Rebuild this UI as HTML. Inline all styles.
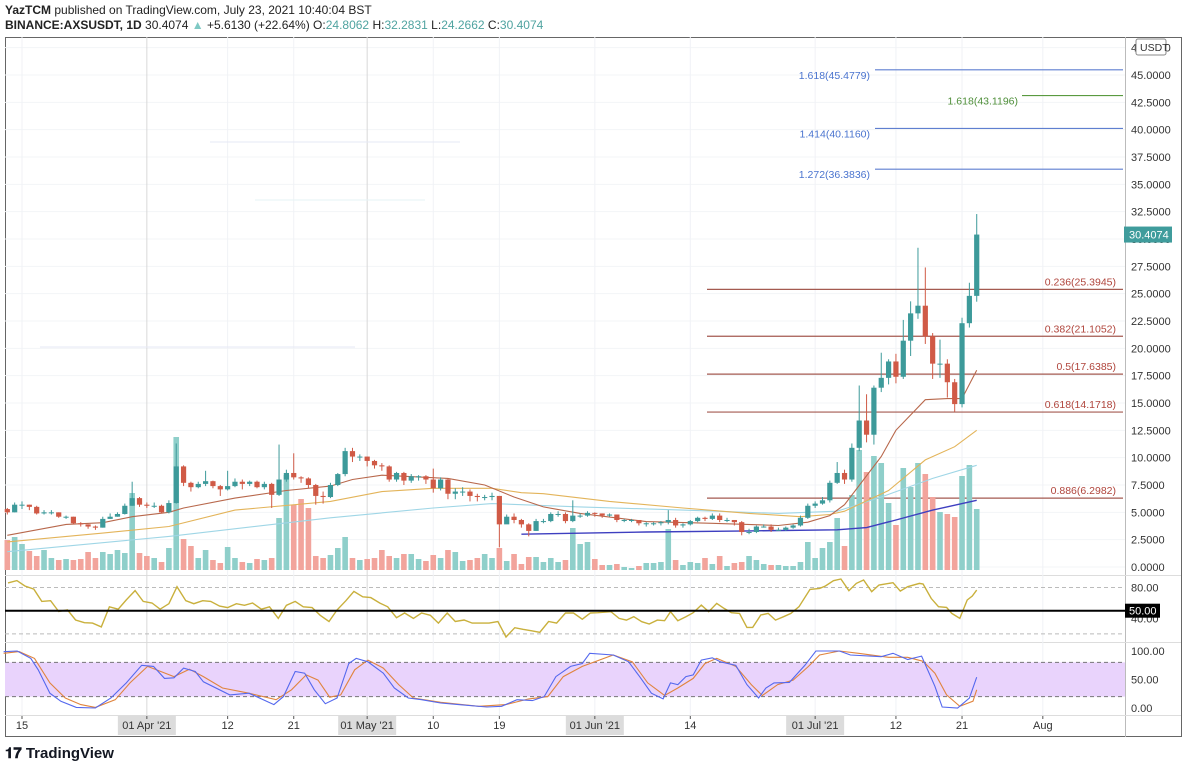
<!DOCTYPE html>
<html><head><meta charset="utf-8">
<style>
html,body{margin:0;padding:0;background:#fff;width:1186px;height:768px;overflow:hidden}
svg{display:block;font-family:"Liberation Sans",sans-serif}
</style></head>
<body>
<svg id="chart" width="1186" height="768" viewBox="0 0 1186 768" xmlns="http://www.w3.org/2000/svg">
<text x="5" y="14" font-size="12" fill="#222"><tspan font-weight="bold">YazTCM</tspan> published on TradingView.com, July 23, 2021 10:40:04 BST</text>
<text x="5" y="29" font-size="12" fill="#222"><tspan font-weight="bold">BINANCE:AXSUSDT, 1D</tspan> 30.4074 <tspan fill="#7fc9c4">▲</tspan> +5.6130 (+22.64%) O:<tspan fill="#4fa3a0">24.8062</tspan> H:<tspan fill="#4fa3a0">32.2831</tspan> L:<tspan fill="#4fa3a0">24.2662</tspan> C:<tspan fill="#4fa3a0">30.4074</tspan></text>
<rect x="5.5" y="37.5" width="1176" height="699" fill="none" stroke="#666"/>
<line x1="1125.5" y1="37" x2="1125.5" y2="737" stroke="#bbb"/>
<line x1="5" y1="575.5" x2="1181" y2="575.5" stroke="#ddd"/>
<line x1="5" y1="642.5" x2="1181" y2="642.5" stroke="#ddd"/>
<line x1="5" y1="715.5" x2="1181" y2="715.5" stroke="#ddd"/>
<g id="grid"></g>
<g id="ghost">
<line x1="210" y1="142" x2="460" y2="142" stroke="#e6e9f5"/>
<line x1="255" y1="200" x2="425" y2="200" stroke="#e6f3f5"/>
<line x1="40" y1="347" x2="355" y2="347" stroke="#e6e9f5"/>
</g>
<g id="fib"></g>
<g id="vol"></g>
<g id="mas"></g>
<g id="candles"></g>
<g id="rsi"></g>
<g id="stoch"></g>
<g id="axes"></g>
<text x="5" y="758" font-size="15" font-weight="bold" fill="#131722">𝟏𝟕 TradingView</text>
</svg>
<script>
const closes=[5.0,5.7,5.7,5.5,4.9,5.0,5.0,4.6,4.6,4.0,3.9,3.7,3.6,4.4,4.6,4.85,5.6,6.3,5.7,5.6,5.6,5.0,5.85,9.2,7.7,7.3,7.6,7.85,7.4,7.1,7.4,7.8,7.6,7.8,7.3,7.6,6.6,8.0,8.6,8.2,8.1,7.5,6.5,6.4,7.5,8.5,10.6,10.1,10.1,9.7,9.3,9.2,8.0,8.6,7.9,8.3,8.3,8.0,7.2,8.0,6.7,6.9,6.9,6.5,6.4,6.4,6.5,3.9,
4.6,4.3,3.9,3.3,4.2,4.2,4.85,4.85,4.2,4.7,4.7,4.95,4.9,4.7,4.8,4.3,4.3,4.3,4.0,4.0,4.0,4.1,4.3,3.8,3.9,4.2,4.5,4.4,4.7,4.3,4.3,4.1,3.2,3.2,3.7,3.7,3.4,3.4,3.6,3.8,4.5,5.6,
5.8,6.1,7.7,8.6,8.0,10.9,13.4,12.1,16.4,17.3,18.8,17.4,20.7,23.2,23.9,21.1,18.6,18.6,16.9,14.9,22.3,24.8,30.4074];
const highs=[5.4,5.9,6.0,5.7,5.6,5.2,5.2,5.0,4.7,4.6,4.1,3.9,3.8,4.6,4.9,5.0,5.8,7.8,6.4,5.9,5.9,5.7,6.1,11.3,9.3,7.8,7.8,8.8,7.9,7.5,8.8,8.1,8.0,7.9,7.9,7.8,7.7,11.2,8.9,10.4,8.3,8.2,7.6,6.9,7.7,8.6,10.9,10.9,10.3,10.1,9.8,9.5,9.3,8.7,8.7,8.5,8.4,8.4,9.0,8.2,8.1,7.2,7.3,7.1,6.7,6.6,6.8,6.5,
4.8,4.9,4.4,4.0,4.4,4.4,5.0,5.1,5.0,6.1,4.9,5.1,5.0,4.9,4.9,4.8,4.4,4.4,4.3,4.1,4.1,4.2,5.2,4.5,4.0,4.3,4.6,4.6,4.9,4.9,4.5,4.3,4.2,3.5,3.8,3.9,3.9,3.6,3.7,3.9,4.7,5.8,
6.0,6.4,7.9,9.6,8.9,11.3,16.6,15.8,16.6,19.6,19.0,19.5,22.6,24.3,29.2,27.4,21.4,20.8,19.0,17.2,22.8,26.0,32.2831];
const lows=[4.8,5.0,5.3,5.2,4.8,4.8,4.8,4.5,4.4,3.9,3.7,3.5,3.4,3.6,4.4,4.6,4.8,5.6,5.5,5.4,5.4,4.9,4.9,5.8,7.4,6.9,7.2,7.4,7.2,6.5,7.0,7.3,7.1,7.4,7.2,7.1,5.4,6.5,7.8,8.0,7.7,7.2,5.7,5.8,6.3,7.4,8.3,9.6,9.7,9.2,9.0,8.8,7.8,7.8,7.5,7.7,7.9,7.6,6.8,7.0,6.2,6.2,6.5,6.0,6.0,6.1,6.1,1.8,
4.0,4.0,3.6,2.8,3.3,4.0,4.1,4.6,4.0,4.1,4.5,4.6,4.6,4.5,4.6,4.1,4.1,4.1,3.8,3.7,3.8,3.8,3.9,3.6,3.6,3.8,4.1,4.2,4.3,4.1,4.1,3.8,2.9,3.0,3.1,3.6,3.2,3.3,3.3,3.5,3.7,4.4,
5.4,5.7,5.9,7.6,7.6,7.8,10.6,11.4,11.2,16.0,16.7,16.8,17.2,19.3,22.7,20.4,17.2,17.3,15.5,14.2,14.6,21.9,24.2662];
const volumes=[30,33,26,19,14,20,12,10,11,10,11,18,12,18,16,20,17,77,17,14,12,8,22,133,31,24,12,20,10,7,23,12,8,7,11,10,12,52,95,65,71,62,14,12,15,22,33,12,10,11,12,20,14,12,16,16,11,9,15,12,20,18,9,10,12,16,12,22,
9,16,6,13,13,8,12,8,10,42,26,28,11,5,5,6,3,2,4,7,7,8,41,10,5,8,7,12,6,14,4,7,8,14,10,6,5,5,4,4,8,28,
12,22,28,52,24,75,120,98,114,107,67,45,102,83,107,96,73,58,56,53,94,105,61];
const firstDay=-2, firstOpen=5.3;
const ma20Days=[-2,6,11,15,20,22,29,36,42,45,49,58,63,67,71,76,85,94,103,107,110,112,117,119,123,126,128,130];
const ma20Vals=[2.9,3.9,4.05,4.6,5.0,5.4,6.3,7.0,7.4,8.0,8.4,8.1,7.5,6.4,5.5,4.9,4.15,4.0,3.8,4.1,4.7,5.7,10.1,12.5,15.3,15.4,15.4,18.0];
const ma50Days=[-2,11,20,29,42,49,56,64,68,71,80,90,99,106,110,112,118,123,127,130];
const ma50Vals=[2.3,3.1,3.7,5.2,6.0,6.9,7.2,7.2,6.8,6.7,6.0,5.4,4.9,4.6,4.8,5.1,7.0,9.8,11.0,12.5];
const ma100Days=[-2,20,42,56,64,76,90,103,111,117,124,130];
const ma100Vals=[1.4,2.8,4.5,5.4,5.8,5.5,5.2,4.9,5.1,6.4,8.1,9.3];
const ma200Days=[68,85,99,111,115,119,124,130];
const ma200Vals=[3.0,3.2,3.3,3.4,3.6,4.3,5.2,6.1];
const rsiDays=[-1.9,-0.7,0.4,1.6,2.7,3.9,5.0,6.2,7.3,8.5,9.6,10.8,11.9,13.1,14.2,15.4,16.5,17.7,18.8,20.0,21.1,22.3,23.4,24.6,25.7,26.9,28.0,29.2,30.3,31.4,32.6,33.7,34.9,36.0,37.2,38.3,39.5,40.6,41.8,42.9,44.1,45.2,46.4,47.5,48.7,49.8,51.0,52.1,53.3,54.4,55.6,56.7,57.9,59.0,60.2,61.3,62.5,63.6,64.8,65.9,67.1,68.2,69.4,70.5,71.7,72.8,74.0,75.1,76.3,77.4,
78.4,80.2,81.3,82.3,83.3,84.4,85.4,86.5,87.5,88.3,89.3,90.4,91.4,92.5,93.5,94.6,95.6,96.6,97.7,98.7,99.5,100.6,101.6,102.6,103.7,104.7,105.8,107.3,108.6,109.4,110.5,111.5,112.6,113.6,114.6,115.7,116.7,118.6,119.6,120.6,122.2,122.7,123.8,124.8,125.9,126.6,127.7,128.7,129.4,130];
const rsiVals=[86,89,82,78,62,63,49,51,38,34.5,34,29,55,52,64,76,62,60,52,59,81,63,59,63,62,56,54,59,57,60,52,55,40,57,62,55,54,44,36,51,63,75,68,67,60,55,41,47,40,47,44,34,47,36,38,34,34,34,36,16,28,26,24,22,36,34,47,47,39,47,
47.4,48.7,40,37.9,42.2,35.8,32.8,37.9,37.1,48.7,37.1,42.2,47.4,57.3,48.7,59.5,53,47.4,46.5,28.4,28.4,44.4,46.5,37.9,42.2,46.5,55.2,77.6,78.9,81.9,88.8,91,75.9,85.3,89.7,74.6,83.2,86.2,75.4,81,85.3,84.5,65.9,55.2,54.3,46.5,40.1,63.8,69,76.7];
const kDays=[-2.5,-0.65,1.2,2.2,3.8,5.3,7.4,10.0,12.1,14.2,16.3,17.9,19.4,20.7,22.0,23.6,24.7,28.3,30.9,34.3,35.6,37.2,38.5,39.8,41.3,42.9,44.5,45.5,47.1,49.2,50.7,52.6,54.4,57.0,59.6,63.3,65.3,67.4,69.5,71.1,72.7,74.7,76.3,77.3,
80.5,82.6,84.1,85.7,87.3,88.3,89.3,90.4,91.4,92.5,94.0,95.1,97.2,98.7,100.3,101.3,102.4,104.5,106.6,108.1,111.3,112.8,117.0,118.6,120.6,122.5,124.3,125.3,127.4,129.0,130];
const kVals=[98.8,100,87,67,26,11.7,1,0,17.5,44,75,73,52,53,70,64,46,23,26,6,20,64,61,32,7.6,17.5,78,87,81,61,35,17.5,14.6,8.8,5.8,1.8,3,14.6,12.9,20,55,73,78,96,
93,81,55,26,16,44,41,55,58,84,88,81,75,41,17.5,35,44,45,75,100,100,93,90,96,85,91,38,1.8,0,17.5,54];
const dDays=[-2.5,-0.4,1.7,3.8,5.9,8.0,10.0,12.7,14.7,17.1,18.9,20.7,22.8,24.7,27.3,30.9,34.6,36.7,38.7,40.3,41.9,43.4,45.3,47.1,49.2,51.3,53.3,57.0,62.2,65.9,69.0,71.6,73.7,76.3,
80.5,83.1,85.2,87.5,89.3,91.4,93.0,94.6,97.2,99.3,100.8,102.9,105.0,107.1,108.6,111.3,113.9,118.0,120.6,122.7,124.3,125.9,127.7,129.5,130];
const dVals=[96,99,87,44,17.5,6,1,14.6,44,73,64,55,68,55,35,26,14.6,32,58,49,19,23,67,84,70,41,17.5,10,3,6,16,20,55,73,
93,81,44,22,35,52,78,87,73,41,22,41,49,73,93,100,96,89,89,82,61,23,3,12,32];
const priceTicks=[0,2.5,5,7.5,10,12.5,15,17.5,20,22.5,25,27.5,30,32.5,35,37.5,40,42.5,45,47.5];
const dateTickDays=[0,17,28,37,47,56,65,78,91,108,119,128,139];
const dateTickLabels=["15","01 Apr '21","12","21","01 May '21","10","19","01 Jun '21","14","01 Jul '21","12","21","Aug"];
const dateTickBoxed=[false,true,false,false,true,false,false,true,false,true,false,false,false];
const fibLevels=[25.3945,21.1052,17.6385,14.1718,6.2982];
const fibLabels=["0.236(25.3945)","0.382(21.1052)","0.5(17.6385)","0.618(14.1718)","0.886(6.2982)"];
const extLevels=[45.4779,40.1160,36.3836];
const extLabels=["1.618(45.4779)","1.414(40.1160)","1.272(36.3836)"];
const greenExtLevels=[43.1196];
const greenExtLabels=["1.618(43.1196)"];

const NS="http://www.w3.org/2000/svg";
const X=d=>22+7.344*d;
const Y=p=>567-p*10.933;
const VY=v=>570-v;
const RY=v=>610.7-(v-50)*0.773;
const SY=v=>708-v*0.57;
function mk(tag,attrs,parent){const e=document.createElementNS(NS,tag);for(const k in attrs)e.setAttribute(k,attrs[k]);parent.appendChild(e);return e;}
const g=id=>document.getElementById(id);

// grid
priceTicks.forEach(p=>{const l=mk('line',{x1:5,x2:1125,y1:Y(p),y2:Y(p),stroke:'#f3f4f7'},g('grid'));

});
dateTickDays.forEach((d,i)=>{const l=mk('line',{x1:X(d),x2:X(d),y1:37,y2:715,stroke:(i==1||i==4)?'#d8d8d8':'#f0f2f6'},g('grid'));

});

// fib
fibLevels.forEach((p,i)=>{const l=mk('line',{x1:707,x2:1123,y1:Y(p),y2:Y(p),stroke:'#a45a50','stroke-width':1.2},g('fib'));


const t=mk('text',{x:1116,y:Y(p)-4,'font-size':10.5,fill:'#b0453c','text-anchor':'end'},g('fib'));t.textContent=fibLabels[i];

});
extLevels.forEach((p,i)=>{const l=mk('line',{x1:875,x2:1123,y1:Y(p),y2:Y(p),stroke:'#5f7fd0','stroke-width':1.1},g('fib'));


const t=mk('text',{x:870,y:Y(p)+9,'font-size':10.5,fill:'#4a74cf','text-anchor':'end'},g('fib'));t.textContent=extLabels[i];

});
greenExtLevels.forEach((p,i)=>{const l=mk('line',{x1:1022,x2:1123,y1:Y(p),y2:Y(p),stroke:'#5a9a40','stroke-width':1.1},g('fib'));


const t=mk('text',{x:1018,y:Y(p)+9,'font-size':10.5,fill:'#4f8f3a','text-anchor':'end'},g('fib'));t.textContent=greenExtLabels[i];

});

// candles & volume
closes.forEach((c,i)=>{const d=firstDay+i;const o=i?closes[i-1]:firstOpen;const up=c>=o;const x=X(d);
const vb=mk('rect',{x:x-2.8,y:VY(volumes[i]),width:5.6,height:volumes[i],fill:up?'#8fcfca':'#f2a49c'},g('vol'));


const col=up?'#3d9a9a':'#d05a46';
const w=mk('line',{x1:x,x2:x,y1:Y(highs[i]),y2:Y(lows[i]),stroke:col,'stroke-width':1},g('candles'));


const top=Y(Math.max(o,c)),bot=Y(Math.min(o,c));
const b=mk('rect',{x:x-2.6,y:top,width:5.2,height:Math.max(1,bot-top),fill:col},g('candles'));

});

function line(days,vals,yf,color,parent,name,w){const pts=days.map((d,i)=>X(d).toFixed(1)+','+yf(vals[i]).toFixed(1)).join(' ');
const p=mk('polyline',{points:pts,fill:'none',stroke:color,'stroke-width':w||1.1},parent);return p;}
let m;
m=line(ma100Days,ma100Vals,Y,'#9fd6e6',g('mas'));


m=line(ma50Days,ma50Vals,Y,'#e3b45a',g('mas'));


m=line(ma20Days,ma20Vals,Y,'#b8684c',g('mas'));


m=line(ma200Days,ma200Vals,Y,'#3e3fc0',g('mas'),null,1.4);



// RSI
[[80,'#bbb','4,3'],[20,'#bbb','4,3']].forEach(a=>{const l=mk('line',{x1:5,x2:1125,y1:RY(a[0]),y2:RY(a[0]),stroke:a[1],'stroke-dasharray':a[2]},g('rsi'));

});
m=line(rsiDays,rsiVals,RY,'#c9b03c',g('rsi'),null,1.4);


const ml=mk('line',{x1:5,x2:1125,y1:RY(50),y2:RY(50),stroke:'#000','stroke-width':2},g('rsi'));



// Stoch
const band=mk('rect',{x:5,y:SY(80),width:1120,height:SY(20)-SY(80),fill:'#e9d3fc'},g('stoch'));


[80,20].forEach(v=>{const l=mk('line',{x1:5,x2:1125,y1:SY(v),y2:SY(v),stroke:'#777','stroke-dasharray':'4,3'},g('stoch'));

});
m=line(dDays,dVals,SY,'#e0843e',g('stoch'));


m=line(kDays,kVals,SY,'#5468ee',g('stoch'));



// axes
priceTicks.forEach(p=>{const t=mk('text',{x:1131,y:Y(p)+4,'font-size':11,fill:'#333'},g('axes'));t.textContent=p.toFixed(4);

});
const ub=mk('rect',{x:1136,y:39,width:30,height:16,fill:'#fff',stroke:'#888',rx:2},g('axes'));


const ut=mk('text',{x:1140,y:51,'font-size':10.5,fill:'#333'},g('axes'));ut.textContent='USDT';


const lastC=closes[closes.length-1];
const pb=mk('rect',{x:1124,y:Y(lastC)-8,width:48,height:16,fill:'#3f9c9c'},g('axes'));


const pt=mk('text',{x:1129,y:Y(lastC)+4,'font-size':11,fill:'#fff'},g('axes'));pt.textContent=lastC.toFixed(4);


[[80,'80.00'],[40,'40.00']].forEach(a=>{const t=mk('text',{x:1131,y:RY(a[0])+4,'font-size':11,fill:'#333'},g('axes'));t.textContent=a[1];

});
const rb=mk('rect',{x:1125,y:RY(50)-7,width:35,height:14,fill:'#000'},g('axes'));


const rt=mk('text',{x:1129,y:RY(50)+4,'font-size':11,fill:'#fff'},g('axes'));rt.textContent='50.00';


[[100,'100.00'],[50,'50.00'],[0,'0.00']].forEach(a=>{const t=mk('text',{x:1131,y:SY(a[0])+4,'font-size':11,fill:'#333'},g('axes'));t.textContent=a[1];

});
dateTickDays.forEach((d,i)=>{const x=X(d);
if(dateTickBoxed[i]){const r=mk('rect',{x:x-29,y:716,width:58,height:19,fill:'#dcdcdc'},g('axes'));

}
const tk=mk('line',{x1:x,x2:x,y1:716,y2:719,stroke:'#555'},g('axes'));


const t=mk('text',{x:x,y:729,'font-size':11,fill:'#333','text-anchor':'middle'},g('axes'));t.textContent=dateTickLabels[i];

});
</script>
</body></html>
